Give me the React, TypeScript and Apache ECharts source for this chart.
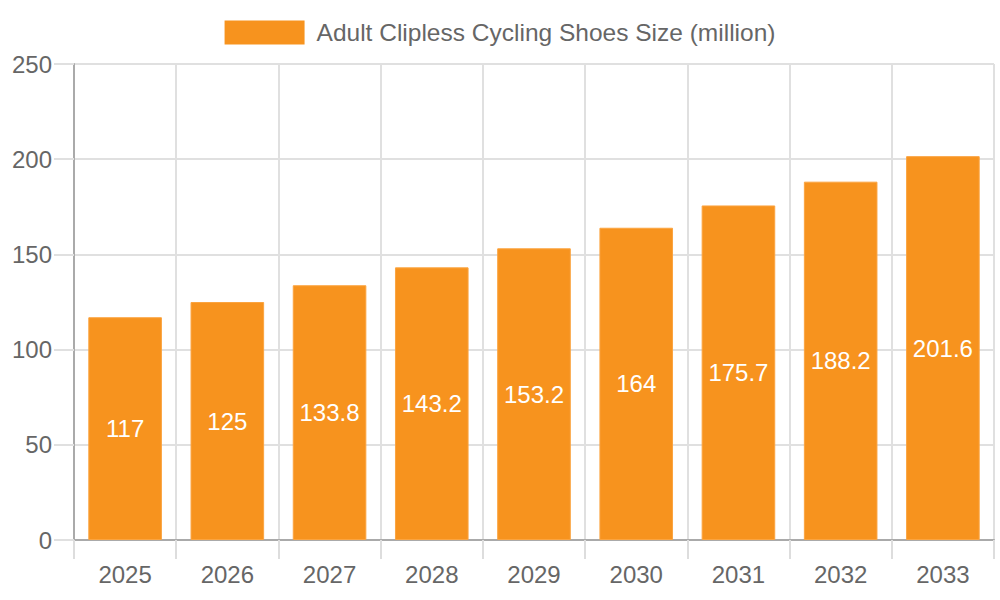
import { useEffect, useRef } from "react";
import * as echarts from "echarts";

const years = ["2025", "2026", "2027", "2028", "2029", "2030", "2031", "2032", "2033"];
const sizes = [117, 125, 133.8, 143.2, 153.2, 164, 175.7, 188.2, 201.6];
const seriesName = "Adult Clipless Cycling Shoes Size (million)";

const FONT = "'Liberation Sans', Arial, Helvetica, sans-serif";

export default function App() {
  const chartRef = useRef<HTMLDivElement>(null);

  useEffect(() => {
    if (!chartRef.current) return;
    const chart = echarts.init(chartRef.current, null, { renderer: "svg" });

    chart.setOption({
      animation: false,
      backgroundColor: "#ffffff",
      textStyle: { fontFamily: FONT },
      legend: {
        top: 15,
        left: "center",
        itemWidth: 80,
        itemHeight: 24,
        itemGap: 10,
        icon: "rect",
        itemStyle: { borderWidth: 0 },
        textStyle: { color: "#666666", fontSize: 24.5, fontFamily: FONT, padding: [0, 0, 0, 7] },
        data: [seriesName],
      },
      grid: { left: 74, right: 6, top: 64, bottom: 60, containLabel: false },
      xAxis: {
        type: "category",
        data: years,
        boundaryGap: true,
        axisLine: { show: true, lineStyle: { color: "#aaaaaa", width: 2 } },
        axisTick: { show: true, length: 19, alignWithLabel: false, lineStyle: { color: "#dddddd", width: 2 } },
        axisLabel: { color: "#666666", fontSize: 24, fontFamily: FONT, margin: 22 },
        splitLine: { show: true, lineStyle: { color: "#e0e0e0", width: 2 } },
      },
      yAxis: {
        type: "value",
        min: 0,
        max: 250,
        interval: 50,
        axisLine: { show: true, lineStyle: { color: "#aaaaaa", width: 2 } },
        axisTick: { show: true, length: 20, lineStyle: { color: "#e0e0e0", width: 2 } },
        axisLabel: { color: "#666666", fontSize: 24, fontFamily: FONT, margin: 22 },
        splitLine: { show: true, lineStyle: { color: "#e0e0e0", width: 2 } },
      },
      series: [
        {
          name: seriesName,
          type: "bar",
          data: sizes,
          barCategoryGap: "28%",
          itemStyle: { color: "#F7931E", borderColor: "#FBA440", borderWidth: 1 },
          label: {
            show: true,
            position: "inside",
            color: "#ffffff",
            fontSize: 24,
            fontFamily: FONT,
          },
        },
      ],
    });

    return () => {
      chart.dispose();
    };
  }, []);

  return (
    <div
      ref={chartRef}
      style={{ position: "fixed", left: 0, top: 0, width: 1000, height: 600 }}
    />
  );
}
